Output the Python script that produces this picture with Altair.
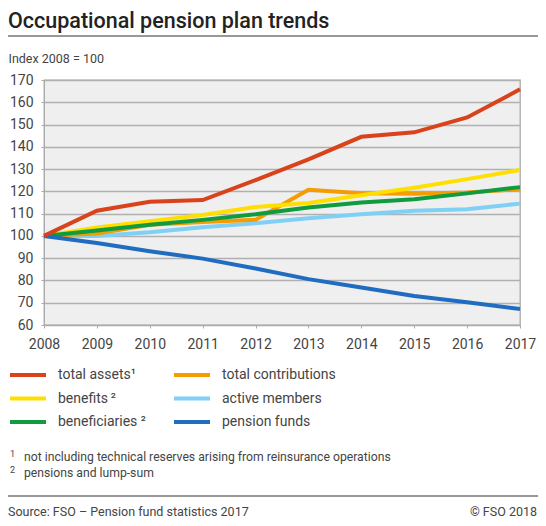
import altair as alt
import pandas as pd

TITLE = "Occupational pension plan trends"
Y_TITLE = "Index 2008 = 100"
YEARS = list(range(2008, 2018))
Y_TICKS = list(range(60, 171, 10))

# legend order (column-major: first column, then second column)
SERIES = ["total assets¹", "benefits\u2009²", "beneficiaries ²",
          "total contributions", "active members", "pension funds"]
COLORS = ["#d8431c", "#ffdf00", "#0f9b3e", "#f59c00", "#80d0f6", "#1f6cc0"]

total_assets = [100, 111.3, 115.3, 116.1, 125.1, 134.4, 144.5, 146.5, 153.2, 165.8]
benefits = [100, 103.8, 106.6, 109.4, 113.0, 114.8, 118.3, 121.6, 125.5, 129.6]
beneficiaries = [100, 102.4, 105.0, 107.2, 109.7, 112.8, 115.0, 116.5, 119.1, 121.9]
total_contributions = [100, 101.1, 105.0, 106.2, 107.3, 120.7, 119.1, 118.9, 119.5, 121.0]
active_members = [100, 100.0, 101.6, 103.9, 105.7, 107.9, 109.7, 111.3, 112.0, 114.5]
pension_funds = [100, 96.8, 93.1, 89.8, 85.4, 80.6, 76.8, 73.0, 70.2, 67.2]

VALUES = [total_assets, benefits, beneficiaries, total_contributions,
          active_members, pension_funds]
DRAW_ORDER = [4, 3, 1, 2, 5, 0]

FOOTNOTE_MARKS = ["1", "2"]
FOOTNOTES = ["not including technical reserves arising from reinsurance operations",
             "pensions and lump-sum"]
SOURCE = "Source: FSO – Pension fund statistics 2017"
COPYRIGHT = "© FSO 2018"

rows = []
for i in DRAW_ORDER:
    for yr, v in zip(YEARS, VALUES[i]):
        rows.append({"year": yr, "value": v, "series": SERIES[i]})
df = pd.DataFrame(rows)

FONT = "Roboto"
TXT = "#444444"

lines = alt.Chart(df).mark_line(strokeWidth=4).encode(
    x=alt.X("year:Q",
            scale=alt.Scale(domain=[2008, 2017], nice=False, zero=False),
            axis=alt.Axis(values=YEARS, format="d", title=None, grid=False,
                          tickSize=3, tickColor="#aaaaaa", domainColor="#aaaaaa",
                          labelPadding=9, labelFontSize=14, labelColor=TXT,
                          labelFont=FONT, labelFlush=False, labelOverlap=False)),
    y=alt.Y("value:Q",
            scale=alt.Scale(domain=[60, 170], nice=False, zero=False),
            axis=alt.Axis(values=Y_TICKS, title=Y_TITLE, titleAngle=0,
                          titleX=-36, titleY=-18, titleAlign="left",
                          titleBaseline="alphabetic", titleFontWeight="normal",
                          titleFontSize=12.5, titleColor=TXT, titleFont=FONT,
                          grid=True, gridColor="#b0b0b0", gridWidth=1.3,
                          tickSize=3, tickColor="#aaaaaa", domainColor="#aaaaaa",
                          labelPadding=8, labelFontSize=14, labelColor=TXT,
                          labelFont=FONT)),
    color=alt.Color("series:N",
                    scale=alt.Scale(domain=SERIES, range=COLORS),
                    legend=alt.Legend(orient="none", legendX=-36, legendY=287,
                                      columns=2, title=None,
                                      symbolType="stroke", symbolSize=1296,
                                      symbolStrokeWidth=4, labelFontSize=14,
                                      labelOffset=10, labelColor=TXT,
                                      labelFont=FONT, columnPadding=26,
                                      clipHeight=16, rowPadding=7.5)),
)


def text_layer(txt, x, y, size, color=TXT, align="left", weight="normal",
               baseline="middle"):
    return alt.Chart(pd.DataFrame({"t": [txt]})).mark_text(
        align=align, baseline=baseline, fontSize=size, font=FONT,
        fontWeight=weight, color=color
    ).encode(x=alt.value(x), y=alt.value(y), text="t:N")


def hrule(y):
    return alt.Chart(pd.DataFrame({"a": [0]})).mark_rule(
        color="#333333", strokeWidth=1.2
    ).encode(x=alt.value(-36), x2=alt.value(494), y=alt.value(y))


layers = [
    lines,
    text_layer(TITLE, -36, -52, 21.5, color="#222222", weight=500,
               baseline="alphabetic"),
    hrule(-44),
    text_layer(FOOTNOTE_MARKS[0], -34, 374, 9),
    text_layer(FOOTNOTES[0], -20, 377, 12.2),
    text_layer(FOOTNOTE_MARKS[1], -34, 390, 9),
    text_layer(FOOTNOTES[1], -20, 393, 12.2),
    hrule(416),
    text_layer(SOURCE, -36, 432, 12.5),
    text_layer(COPYRIGHT, 493, 432, 12.5, align="right"),
]

chart = alt.layer(*layers).properties(
    width=476, height=245,
    autosize=alt.AutoSizeParams(type="none"),
    padding={"left": 36, "top": 72, "right": 18, "bottom": 193},
).configure_view(fill="#efefef", stroke="#aaaaaa", strokeWidth=1.3)

chart.save("out.html", embed_options={"renderer": "svg", "actions": False})
